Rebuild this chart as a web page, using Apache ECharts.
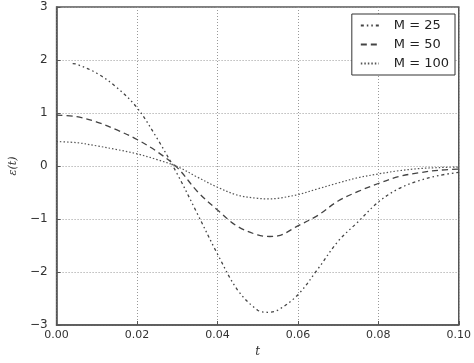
<!DOCTYPE html>
<html><head><meta charset="utf-8">
<script src="https://cdn.jsdelivr.net/npm/echarts@6/dist/echarts.min.js"></script>
<style>html,body{margin:0;padding:0;background:#fff}#c{width:474px;height:363px}</style>
</head><body><div id="c"></div>
<script>
var t25 = [0.004,0.005,0.010,0.015,0.020,0.025,0.030,0.035,0.040,0.045,0.050,0.0525,0.055,0.060,0.065,0.070,0.075,0.080,0.085,0.090,0.095,0.100];
var m25 = [1.93,1.92,1.75,1.48,1.10,0.52,-0.15,-0.90,-1.66,-2.34,-2.72,-2.76,-2.72,-2.43,-1.94,-1.42,-1.05,-0.68,-0.43,-0.28,-0.18,-0.12];
var t50 = [0.000,0.005,0.010,0.015,0.020,0.025,0.030,0.035,0.040,0.045,0.050,0.053,0.055,0.060,0.065,0.070,0.075,0.080,0.085,0.090,0.095,0.100];
var m50 = [0.96,0.93,0.83,0.68,0.50,0.27,-0.03,-0.48,-0.83,-1.14,-1.30,-1.33,-1.32,-1.13,-0.93,-0.66,-0.48,-0.33,-0.20,-0.13,-0.08,-0.06];
var t100 = [0.000,0.005,0.010,0.015,0.020,0.025,0.030,0.035,0.040,0.045,0.050,0.0525,0.055,0.060,0.065,0.070,0.075,0.080,0.085,0.090,0.095,0.100];
var m100 = [0.46,0.44,0.38,0.31,0.23,0.12,-0.01,-0.21,-0.40,-0.55,-0.61,-0.62,-0.61,-0.54,-0.43,-0.32,-0.22,-0.15,-0.09,-0.05,-0.03,-0.02];
var names = ['M = 25','M = 50','M = 100'];
var xTicks = ['0.00','0.02','0.04','0.06','0.08','0.10'];

function pairs(a,b){return a.map(function(v,i){return [v,b[i]];});}
var font = 'DejaVu Sans';
var chart = echarts.init(document.getElementById('c'));
var axisCol = '#555';
chart.setOption({
  animation:false,
  backgroundColor:'#fff',
  grid:{left:43,right:12,top:7,bottom:31,show:true,borderColor:axisCol,borderWidth:1.5,backgroundColor:'transparent'},
  legend:{
    orient:'vertical', right:19, top:14,
    backgroundColor:'#fff', borderColor:'#333', borderWidth:1, borderRadius:0,
    padding:[5,6,5,8], itemGap:6, itemWidth:18, itemHeight:10,
    itemStyle:{opacity:0},
    textStyle:{fontFamily:font,fontSize:13,color:'#222',padding:[0,0,0,10]},
    data:names
  },
  xAxis:{type:'value',min:0,max:0.1,interval:0.02,
    name:'t',nameLocation:'middle',nameGap:21,
    nameTextStyle:{fontFamily:'DejaVu Serif',fontStyle:'italic',fontSize:12,color:'#333'},
    axisLine:{show:true,onZero:false,lineStyle:{color:axisCol,width:1.5}},
    axisTick:{show:true,inside:true,length:4,lineStyle:{color:axisCol}},
    axisLabel:{fontFamily:font,fontSize:11,color:'#333',margin:5,
      formatter:function(v){return xTicks[Math.round(v/0.02)];}},
    splitLine:{show:true,lineStyle:{color:'#999',type:[1,2],width:1}}
  },
  yAxis:{type:'value',min:-3,max:3,interval:1,
    name:'ε(t)',nameLocation:'middle',nameGap:30,nameRotate:90,
    nameTextStyle:{fontFamily:'DejaVu Serif',fontStyle:'italic',fontSize:11,color:'#333'},
    axisLine:{show:true,onZero:false,lineStyle:{color:axisCol,width:1.5}},
    axisTick:{show:true,inside:true,length:4,lineStyle:{color:axisCol}},
    axisLabel:{fontFamily:font,fontSize:12,color:'#333',margin:9,
      formatter:function(v){return v<0?'\u2212'+(-v):String(v);}},
    splitLine:{show:true,lineStyle:{color:'#999',type:[1,2],width:1}}
  },
  series:[
    {name:names[0],type:'line',data:pairs(t25,m25),smooth:0.35,symbol:'none',
      lineStyle:{color:'#444',width:1.3,type:[3,3,1.5,3,1.5,3]},itemStyle:{color:'#444'}},
    {name:names[1],type:'line',data:pairs(t50,m50),smooth:0.35,symbol:'none',
      lineStyle:{color:'#444',width:1.3,type:[6,4]},itemStyle:{color:'#444'}},
    {name:names[2],type:'line',data:pairs(t100,m100),smooth:0.35,symbol:'none',
      lineStyle:{color:'#555',width:1.2,type:[1.5,2]},itemStyle:{color:'#555'}}
  ]
});
</script></body></html>
